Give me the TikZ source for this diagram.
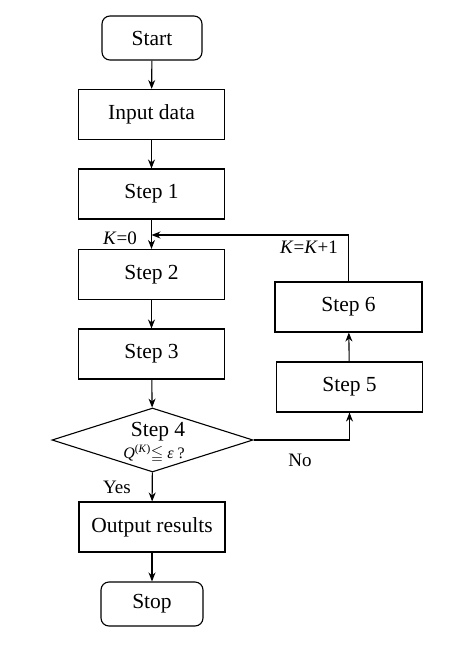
\documentclass[tikz,border=0pt]{standalone}
\usepackage{amssymb}
\usepackage{fontspec}
\setmainfont{Liberation Serif}
\usetikzlibrary{shapes.geometric,arrows.meta}
\begin{document}
\begin{tikzpicture}[x=1pt,y=-1pt,
  box/.style={draw,line width=1.1pt,rectangle,inner sep=0pt,minimum width=146pt,minimum height=50pt,font=\fontsize{21.5}{24}\selectfont},
  term/.style={box,rounded corners=8pt,minimum width=100pt,minimum height=44pt},
  arr/.style={line width=1.1pt,-{Stealth[length=9pt,width=7pt]}},
  lab/.style={font=\fontsize{19}{22}\selectfont,inner sep=0pt}]
\useasboundingbox (0,0) rectangle (474,650);
\node[term] (start) at (152,38) {Start};
\node[box] (input) at (151.5,114.5) {Input data};
\node[box] (s1) at (151.5,194) {Step 1};
\node[box] (s2) at (151.5,274.5) {Step 2};
\node[box] (s3) at (151.5,354) {Step 3};
\node[draw,line width=1.1pt,diamond,inner sep=0pt,minimum width=201pt,minimum height=64pt] (s4) at (152.5,440) {};
\node[inner sep=0pt,font=\fontsize{21.5}{24}\selectfont] (s4t) at (158,432) {Step 4};
\node[inner sep=0pt,font=\fontsize{16}{18}\selectfont] (s4q) at (154,454) {\textit{Q}\textsuperscript{(\textit{K})}$\leqq$ \textit{ε} ?};
\node[box] (out) at (152,527) {Output results};
\node[term,minimum width=102pt] (stop) at (152,604) {Stop};
\node[box,minimum width=147pt] (s6) at (348.5,307) {Step 6};
\node[box] (s5) at (349.5,387) {Step 5};
\coordinate (j) at (151.5,235);
\coordinate (tr) at (348.5,235);
\coordinate (br) at (349.5,440);
\draw[arr] (start) -- (input);
\draw[arr] (input) -- (s1);
\draw[arr] (s1) -- (s2);
\draw[arr] (s2) -- (s3);
\draw[arr] (s3) -- (s4);
\draw[arr] (s4) -- (out);
\draw[arr] (out) -- (stop);
\draw[arr] (s4.east) -- (br) -- (s5);
\draw[arr] (s5) -- (s6);
\draw[arr] (s6) -- (tr) -- (j);
\node[lab] (k0) at (120,238) {\textit{K}=0};
\node[lab] (kk) at (309,247) {\textit{K}=\textit{K}+1};
\node[lab] (yes) at (117,487) {Yes};
\node[lab] (no) at (300,460) {No};
\end{tikzpicture}
\end{document}
